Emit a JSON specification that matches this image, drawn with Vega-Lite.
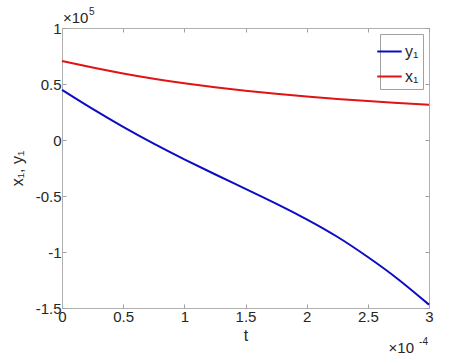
{
  "$schema": "https://vega.github.io/schema/vega-lite/v6.json",
  "width": 367,
  "height": 280,
  "autosize": {"type": "none"},
  "padding": {"left": 62, "top": 28, "right": 45, "bottom": 47},
  "background": "white",
  "config": {
    "font": "Liberation Sans",
    "view": {"stroke": "#b0b0b0", "strokeWidth": 1},
    "axis": {
      "grid": false,
      "domainColor": "#b0b0b0",
      "tickColor": "#a0a0a0",
      "tickSize": -4,
      "labelColor": "#262626",
      "titleColor": "#262626",
      "labelFontSize": 15,
      "titleFontSize": 16,
      "titleFontWeight": "normal",
      "labelExpr": "toString(datum.value)"
    }
  },
  "datasets": {
    "curves": [
      {"t": 0, "v": 0.447, "s": "y₁"},
      {"t": 0.25, "v": 0.277, "s": "y₁"},
      {"t": 0.5, "v": 0.117, "s": "y₁"},
      {"t": 0.75, "v": -0.033, "s": "y₁"},
      {"t": 1.0, "v": -0.173, "s": "y₁"},
      {"t": 1.25, "v": -0.306, "s": "y₁"},
      {"t": 1.5, "v": -0.436, "s": "y₁"},
      {"t": 1.75, "v": -0.568, "s": "y₁"},
      {"t": 2.0, "v": -0.708, "s": "y₁"},
      {"t": 2.25, "v": -0.864, "s": "y₁"},
      {"t": 2.5, "v": -1.045, "s": "y₁"},
      {"t": 2.75, "v": -1.245, "s": "y₁"},
      {"t": 3.0, "v": -1.47, "s": "y₁"},
      {"t": 0, "v": 0.705, "s": "x₁"},
      {"t": 0.25, "v": 0.647, "s": "x₁"},
      {"t": 0.5, "v": 0.594, "s": "x₁"},
      {"t": 0.75, "v": 0.547, "s": "x₁"},
      {"t": 1.0, "v": 0.506, "s": "x₁"},
      {"t": 1.25, "v": 0.47, "s": "x₁"},
      {"t": 1.5, "v": 0.439, "s": "x₁"},
      {"t": 1.75, "v": 0.412, "s": "x₁"},
      {"t": 2.0, "v": 0.388, "s": "x₁"},
      {"t": 2.25, "v": 0.367, "s": "x₁"},
      {"t": 2.5, "v": 0.348, "s": "x₁"},
      {"t": 2.75, "v": 0.331, "s": "x₁"},
      {"t": 3.0, "v": 0.315, "s": "x₁"}
    ],
    "yMult": [{"t": 0, "v": 1, "base": "×10", "exp": "5"}],
    "xMult": [{"t": 3, "v": -1.5, "base": "×10", "exp": "-4"}]
  },
  "resolve": {"axis": {"x": "independent", "y": "independent"}},
  "layer": [
    {
      "data": {"name": "curves"},
      "mark": {"type": "line", "strokeWidth": 2, "interpolate": "natural"},
      "encoding": {
        "x": {
          "field": "t", "type": "quantitative",
          "scale": {"domain": [0, 3], "nice": false, "zero": false},
          "axis": {"orient": "bottom", "title": "t", "values": [0, 0.5, 1, 1.5, 2, 2.5, 3], "labelPadding": 5, "titlePadding": 3, "labelFlush": false}
        },
        "y": {
          "field": "v", "type": "quantitative",
          "scale": {"domain": [-1.5, 1], "nice": false, "zero": false},
          "axis": {"orient": "left", "title": "x₁, y₁", "values": [-1.5, -1, -0.5, 0, 0.5, 1], "labelPadding": 5, "titlePadding": 10, "labelFlush": false}
        },
        "color": {
          "field": "s", "type": "nominal",
          "scale": {"domain": ["y₁", "x₁"], "range": ["#0c0cc4", "#e01414"]},
          "legend": {
            "title": null,
            "orient": "top-right",
            "offset": 6,
            "strokeColor": "#a0a0a0",
            "fillColor": "white",
            "padding": 4,
            "symbolType": "stroke",
            "symbolStrokeWidth": 2,
            "symbolSize": 600,
            "symbolOffset": -8,
            "labelOffset": 2,
            "labelFontSize": 16,
            "labelColor": "#262626",
            "rowPadding": 3
          }
        }
      }
    },
    {
      "data": {"name": "curves"},
      "mark": {"type": "line", "opacity": 0},
      "encoding": {
        "x": {
          "field": "t", "type": "quantitative",
          "axis": {"orient": "top", "title": null, "labels": true, "labelOpacity": 0, "labelFontSize": 1, "labelPadding": 0, "domain": false, "ticks": true, "values": [0, 0.5, 1, 1.5, 2, 2.5, 3]}
        },
        "y": {
          "field": "v", "type": "quantitative",
          "axis": {"orient": "right", "title": null, "labels": true, "labelOpacity": 0, "labelFontSize": 1, "labelPadding": 0, "domain": false, "ticks": true, "values": [-1.5, -1, -0.5, 0, 0.5, 1]}
        },
        "detail": {"field": "s"}
      }
    },
    {
      "data": {"name": "yMult"},
      "mark": {"type": "text", "align": "left", "baseline": "alphabetic", "dx": 1, "dy": -5, "fontSize": 15, "color": "#262626"},
      "encoding": {
        "x": {"field": "t", "type": "quantitative", "axis": null},
        "y": {"field": "v", "type": "quantitative", "axis": null},
        "text": {"field": "base"}
      }
    },
    {
      "data": {"name": "yMult"},
      "mark": {"type": "text", "align": "left", "baseline": "alphabetic", "dx": 27, "dy": -13, "fontSize": 10, "color": "#262626"},
      "encoding": {
        "x": {"field": "t", "type": "quantitative", "axis": null},
        "y": {"field": "v", "type": "quantitative", "axis": null},
        "text": {"field": "exp"}
      }
    },
    {
      "data": {"name": "xMult"},
      "mark": {"type": "text", "align": "right", "baseline": "alphabetic", "dx": -15, "dy": 45, "fontSize": 15, "color": "#262626"},
      "encoding": {
        "x": {"field": "t", "type": "quantitative", "axis": null},
        "y": {"field": "v", "type": "quantitative", "axis": null},
        "text": {"field": "base"}
      }
    },
    {
      "data": {"name": "xMult"},
      "mark": {"type": "text", "align": "right", "baseline": "alphabetic", "dx": -1, "dy": 37, "fontSize": 10, "color": "#262626"},
      "encoding": {
        "x": {"field": "t", "type": "quantitative", "axis": null},
        "y": {"field": "v", "type": "quantitative", "axis": null},
        "text": {"field": "exp"}
      }
    }
  ]
}
